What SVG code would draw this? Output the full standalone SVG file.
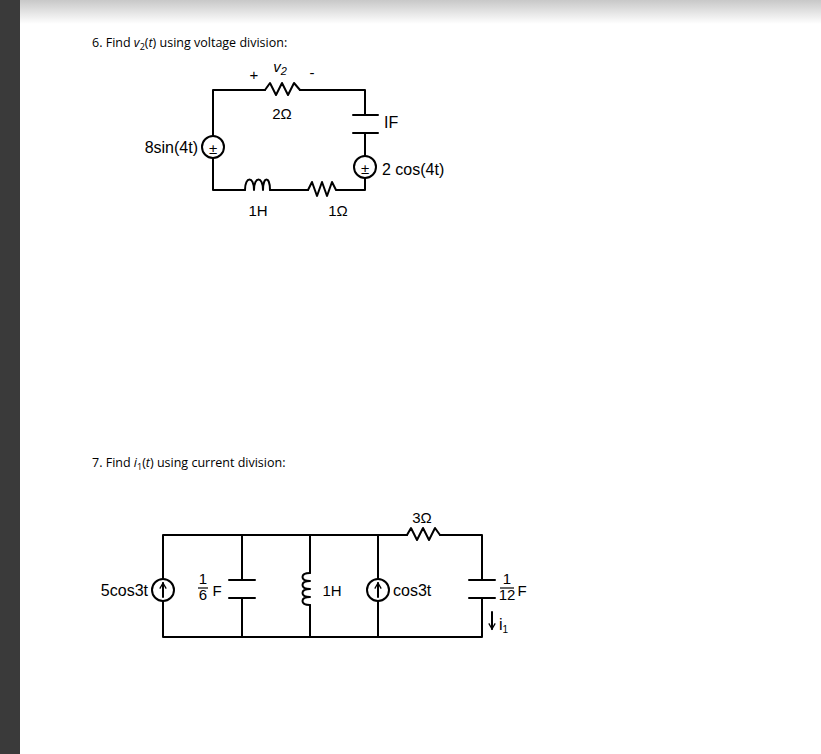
<svg xmlns="http://www.w3.org/2000/svg" width="821" height="754" viewBox="0 0 821 754">
<defs>
<linearGradient id="tg" x1="0" y1="0" x2="0" y2="1"><stop offset="0" stop-color="#c8c8c8"/><stop offset="1" stop-color="#ffffff"/></linearGradient>
<marker id="ar" viewBox="0 0 10 10" refX="8" refY="5" markerWidth="8" markerHeight="8" markerUnits="userSpaceOnUse" orient="auto"><path d="M1,1 L8,5 L1,9" fill="none" stroke="#000" stroke-width="1.6"/></marker>
</defs>
<style>
.w{fill:none;stroke:#000;stroke-width:2;stroke-linejoin:round;stroke-linecap:round}
.s{fill:#fff;stroke:#000;stroke-width:2}
.h{font-family:"Open Sans","Liberation Sans",sans-serif;font-size:12.5px;fill:#000}
.l{font-family:"Liberation Sans",sans-serif;font-size:16px;fill:#000}
.m{font-family:"Liberation Sans",sans-serif;font-size:15px;fill:#000;text-anchor:middle}
</style>
<rect width="821" height="754" fill="#fff"/>
<rect x="0" y="0" width="821" height="24" fill="url(#tg)"/>
<rect x="0" y="0" width="20" height="754" fill="#3a3a3a"/>
<text x="92" y="47" class="h">6.   Find <tspan font-style="italic">v</tspan><tspan font-size="9" dy="3">2</tspan><tspan dy="-3">(</tspan><tspan font-style="italic">t</tspan>) using voltage division:</text>
<text x="92" y="467" class="h">7.   Find <tspan font-style="italic">i</tspan><tspan font-size="9" dy="3">1</tspan><tspan dy="-3">(</tspan><tspan font-style="italic">t</tspan>) using current division:</text>

<g id="connectors">
<path class="w" d="M213,136 V90 H265 M300,90 H365 V115 M365,133 V156 M365,178 V190 H340 M308,190 H270 M245,190 H213 V158"/>
<path class="w" d="M163,579 V535 H407 M440,535 H482 V580 M482,598 V637 H163 V601 M242,535 V580 M242,598 V637 M310,535 V573 M310,605 V637 M378,535 V579 M378,601 V637"/>
</g>
<g id="r2"><path class="w" d="M265,90 l5,-7 l6,12 l6,-12 l6,12 l6,-12 l6,7"/><text x="254" y="80" class="m">+</text><text x="280" y="72" class="m" font-style="italic" font-size="18">v<tspan font-size="11" dy="3">2</tspan></text><text x="312" y="78" class="m">-</text><text x="282" y="119" class="m">2Ω</text></g>
<g id="src1"><circle cx="213" cy="147" r="11" class="s"/><text x="213" y="154" class="m" font-size="18">±</text><text x="198" y="153" class="l" text-anchor="end">8sin(4t)</text></g>
<g id="c1"><path class="w" d="M353,115 H378 M353,133 H378"/><text x="384" y="128" class="l">IF</text></g>
<g id="src2"><circle cx="365" cy="167" r="11" class="s"/><text x="365" y="174" class="m" font-size="18">±</text><text x="382" y="175" class="l">2 cos(4t)</text></g>
<g id="l1"><path class="w" d="M245,190 c0,-14 9,-14 9,0 c0,-14 9,-14 9,0 c0,-14 7,-14 7,0"/><text x="258" y="216" class="m">1H</text></g>
<g id="r1"><path class="w" d="M308,190 l4,-8 l5,14 l5,-14 l5,14 l5,-14 l4,8 l4,0"/><text x="338" y="216" class="m">1Ω</text></g>

<g id="is1"><circle cx="163" cy="590" r="11" class="s"/><path class="w" d="M163,597 V583" marker-end="url(#ar)"/><text x="148" y="596" class="l" text-anchor="end">5cos3t</text></g>
<g id="c2"><path class="w" d="M229,580 H255 M229,598 H255"/><text x="203" y="584" class="m" font-size="10">1</text><path d="M198,588 H208" stroke="#000" stroke-width="1.2"/><text x="203" y="600" class="m" font-size="11">6</text><text x="217" y="596" class="m">F</text></g>
<g id="l2"><path class="w" d="M310,573 c-10,0 -10,8 0,8 c-10,0 -10,8 0,8 c-10,0 -10,8 0,8 c-10,0 -10,8 0,8"/><text x="332" y="596" class="m">1H</text></g>
<g id="is2"><circle cx="378" cy="590" r="11" class="s"/><path class="w" d="M378,597 V583" marker-end="url(#ar)"/><text x="393" y="596" class="l">cos3t</text></g>
<g id="r3"><path class="w" d="M407,535 l4,-7 l6,12 l6,-12 l6,12 l6,-12 l5,7"/><text x="422" y="523" class="m" font-size="16">3Ω</text></g>
<g id="c3"><path class="w" d="M469,580 H495 M469,598 H495"/><text x="507" y="584" class="m" font-size="10">1</text><path d="M500,588 H514" stroke="#000" stroke-width="1.2"/><text x="507" y="600" class="m" font-size="9">12</text><text x="522" y="596" class="m">F</text></g>
<g id="i1"><path class="w" d="M492,612 V629" marker-end="url(#ar)"/><text x="499" y="630" class="l">i<tspan font-size="10" dy="3">1</tspan></text></g>
</svg>
